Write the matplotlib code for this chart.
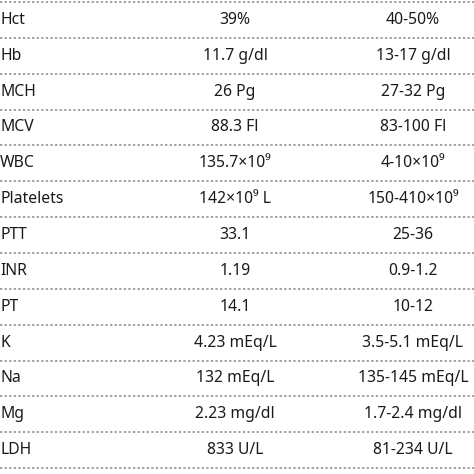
import matplotlib
matplotlib.use("Agg")
import matplotlib.pyplot as plt

params = ["Hct", "Hb", "MCH", "MCV", "WBC", "Platelets", "PTT", "INR", "PT", "K", "Na", "Mg", "LDH"]
values = ["39%", "11.7 g/dl", "26 Pg", "88.3 Fl", "135.7×10⁹", "142×10⁹ L", "33.1", "1.19", "14.1",
          "4.23 mEq/L", "132 mEq/L", "2.23 mg/dl", "833 U/L"]
normal = ["40-50%", "13-17 g/dl", "27-32 Pg", "83-100 Fl", "4-10×10⁹", "150-410×10⁹", "25-36", "0.9-1.2",
          "10-12", "3.5-5.1 mEq/L", "135-145 mEq/L", "1.7-2.4 mg/dl", "81-234 U/L"]

fig = plt.figure(figsize=(4.74, 4.74), dpi=100)
ax = fig.add_axes([0, 0, 1, 1])
ax.set_xlim(0, 474)
ax.set_ylim(474, 0)
ax.axis("off")

top, step = 2, 35.85
n = len(params)
for i in range(n + 1):
    y = top + i * step
    ax.plot([0, 474], [y, y], color="#888888", lw=1.1, ls=(0, (1.5, 1.5)))
fam = ["Noto Sans", "DejaVu Sans"]
for i in range(n):
    yc = top + (i + 0.5) * step
    ax.text(0, yc, params[i], ha="left", va="center", fontsize=11.3, color="#1a1a1a", family=fam)
    ax.text(235, yc, values[i], ha="center", va="center", fontsize=11.3, color="#1a1a1a", family=fam)
    ax.text(413, yc, normal[i], ha="center", va="center", fontsize=11.3, color="#1a1a1a", family=fam)

fig.savefig("out.png", dpi=100, facecolor="white")
